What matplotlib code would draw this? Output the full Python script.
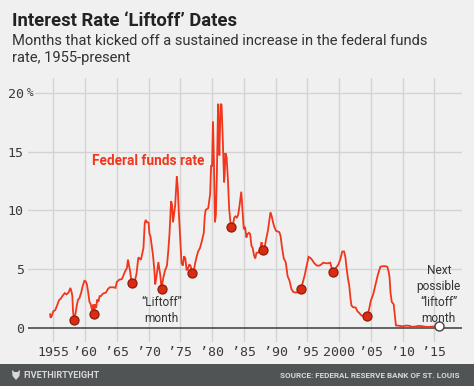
import matplotlib
matplotlib.use("Agg")
import matplotlib.pyplot as plt
from matplotlib.patches import Rectangle, Polygon

# ---------------- data ----------------
years = [1954.50, 1954.58, 1954.75, 1955.0, 1955.3, 1955.6, 1955.9, 1956.2, 1956.5, 1956.8,
         1957.1, 1957.4, 1957.7, 1957.9, 1958.0, 1958.1, 1958.25, 1958.5, 1958.7, 1958.9,
         1959.1, 1959.4, 1959.6, 1959.9, 1960.1, 1960.3, 1960.5, 1960.7, 1960.9, 1961.1,
         1961.3, 1961.45, 1961.6, 1961.75, 1961.9, 1962.1, 1962.3, 1962.5, 1962.8, 1963.0,
         1963.3, 1963.6, 1963.9, 1964.2, 1964.5, 1964.8, 1965.0, 1965.4, 1965.8, 1966.0,
         1966.3, 1966.6, 1966.75, 1966.9, 1967.1, 1967.3, 1967.4, 1967.6, 1967.9, 1968.1,
         1968.4, 1968.6, 1968.8, 1969.0, 1969.2, 1969.4, 1969.55, 1969.7, 1969.9, 1970.0,
         1970.15, 1970.3, 1970.5, 1970.7, 1970.9, 1971.05, 1971.2, 1971.4, 1971.55, 1971.7,
         1971.85, 1972.05, 1972.3, 1972.6, 1972.9, 1973.1, 1973.3, 1973.55, 1973.7, 1973.85,
         1974.0, 1974.2, 1974.45, 1974.6, 1974.75, 1974.9, 1975.05, 1975.2, 1975.4, 1975.6,
         1975.8, 1976.0, 1976.2, 1976.4, 1976.6, 1976.8, 1976.9, 1977.1, 1977.3, 1977.5,
         1977.8, 1978.1, 1978.4, 1978.7, 1978.85, 1979.0, 1979.4, 1979.7, 1979.85, 1980.0,
         1980.15, 1980.3, 1980.45, 1980.6, 1980.75, 1980.95, 1981.05, 1981.15, 1981.35, 1981.5,
         1981.7, 1981.9, 1982.0, 1982.1, 1982.3, 1982.5, 1982.7, 1982.9, 1983.05, 1983.3,
         1983.5, 1983.7, 1983.9, 1984.1, 1984.3, 1984.6, 1984.8, 1985.0, 1985.2, 1985.4,
         1985.6, 1985.8, 1986.0, 1986.2, 1986.4, 1986.6, 1986.8, 1987.0, 1987.3, 1987.6,
         1987.8, 1987.9, 1988.0, 1988.3, 1988.5, 1988.8, 1989.0, 1989.2, 1989.4, 1989.6,
         1989.8, 1990.1, 1990.4, 1990.6, 1990.8, 1991.0, 1991.3, 1991.6, 1991.9, 1992.2,
         1992.5, 1992.8, 1993.2, 1993.6, 1993.9, 1994.0, 1994.3, 1994.6, 1994.9, 1995.2,
         1995.5, 1995.8, 1996.1, 1996.5, 1996.9, 1997.2, 1997.5, 1997.9, 1998.3, 1998.6,
         1998.9, 1999.1, 1999.5, 1999.9, 2000.2, 2000.5, 2000.8, 2001.0, 2001.2, 2001.4,
         2001.6, 2001.8, 2001.95, 2002.2, 2002.6, 2002.9, 2003.2, 2003.5, 2003.9, 2004.2,
         2004.4, 2004.7, 2005.0, 2005.4, 2005.8, 2006.1, 2006.5, 2006.9, 2007.3, 2007.6,
         2007.8, 2007.95, 2008.1, 2008.3, 2008.6, 2008.8, 2008.95, 2009.3, 2009.7, 2010.0,
         2010.5, 2011.0, 2011.5, 2012.0, 2012.5, 2013.0, 2013.5, 2014.0, 2014.5, 2015.0,
         2015.5, 2015.7]
rates = [1.15, 0.85, 1.0, 1.4, 1.5, 1.9, 2.35, 2.5, 2.75, 2.95,
         2.85, 3.0, 3.4, 3.0, 2.7, 1.5, 0.68, 1.2, 1.9, 2.4,
         2.5, 3.0, 3.5, 4.0, 3.95, 3.7, 3.0, 2.2, 2.0, 1.5,
         2.0, 1.2, 2.0, 1.7, 2.4, 2.2, 2.7, 2.7, 2.9, 2.95,
         3.0, 3.3, 3.45, 3.45, 3.45, 3.4, 3.9, 4.1, 4.15, 4.4,
         4.8, 5.1, 5.8, 5.4, 4.8, 4.0, 3.8, 3.9, 4.1, 4.6,
         6.0, 5.9, 5.8, 6.3, 6.8, 8.9, 9.2, 9.0, 9.0, 8.95,
         8.0, 7.8, 7.0, 6.2, 5.0, 3.7, 4.2, 5.0, 5.6, 5.0,
         4.5, 3.3, 4.2, 4.9, 5.3, 6.5, 8.0, 10.8, 10.5, 9.0,
         9.6, 10.5, 12.9, 12.0, 10.0, 8.5, 7.0, 5.5, 5.3, 6.1,
         5.9, 4.9, 5.0, 5.4, 5.3, 4.9, 4.65, 4.7, 5.4, 5.9,
         6.5, 6.8, 7.4, 8.1, 9.5, 10.05, 10.2, 11.4, 13.8, 13.8,
         17.6, 14.0, 9.0, 9.6, 12.8, 19.1, 16.5, 14.7, 19.1, 19.0,
         15.9, 12.4, 13.2, 14.9, 14.5, 12.6, 10.1, 9.0, 8.55, 8.8,
         9.4, 9.5, 9.4, 9.6, 10.3, 11.6, 10.0, 8.4, 8.6, 7.7,
         8.0, 8.1, 8.0, 7.0, 6.8, 6.2, 5.9, 6.4, 6.4, 6.7,
         7.3, 6.8, 6.6, 6.9, 7.5, 8.3, 9.1, 9.85, 9.5, 9.0,
         8.6, 8.25, 8.2, 8.15, 7.8, 6.9, 5.9, 5.6, 4.4, 4.0,
         3.3, 3.05, 3.0, 3.05, 3.0, 3.28, 3.9, 4.5, 5.3, 6.05,
         5.95, 5.75, 5.5, 5.3, 5.3, 5.4, 5.55, 5.5, 5.5, 5.55,
         5.0, 4.76, 5.1, 5.4, 5.85, 6.5, 6.5, 6.0, 5.0, 4.2,
         3.6, 2.5, 1.9, 1.75, 1.73, 1.4, 1.25, 1.05, 1.0, 1.0,
         1.0, 1.5, 2.3, 2.9, 3.8, 4.5, 5.2, 5.25, 5.25, 5.2,
         4.8, 4.3, 3.0, 2.2, 2.0, 1.0, 0.2, 0.18, 0.15, 0.12,
         0.18, 0.17, 0.08, 0.1, 0.16, 0.14, 0.09, 0.07, 0.09, 0.11,
         0.13, 0.14]

liftoff_years = [1958.25, 1961.45, 1967.4, 1972.05, 1976.9, 1983.05, 1988.0, 1994.0, 1999.1, 2004.4]
liftoff_rates = [0.68, 1.2, 3.8, 3.3, 4.65, 8.55, 6.6, 3.28, 4.76, 1.0]
next_year = [2015.7]
next_rate = [0.14]

xtick_years = [1955, 1960, 1965, 1970, 1975, 1980, 1985, 1990, 1995, 2000, 2005, 2010, 2015]
xtick_labels = ["1955", "’60", "’65", "’70", "’75", "’80", "’85", "’90", "’95", "2000", "’05", "’10", "’15"]
ytick_vals = [0, 5, 10, 15, 20]
ytick_labels = ["0", "5", "10", "15", "20"]

# ---------------- styling ----------------
W, H = 474, 386
BG = "#f0f0f0"
RED = "#f0361c"
fig = plt.figure(figsize=(W / 100, H / 100), dpi=100, facecolor=BG)

def fx(px):
    return px / W

def fy(py):
    return 1 - py / H

ax_l, ax_r, ax_t, ax_b = 28, 461.7, 78, 341.7
ax = fig.add_axes([fx(ax_l), fy(ax_b), fx(ax_r - ax_l), (ax_b - ax_t) / H])
ax.set_facecolor(BG)
for s in ax.spines.values():
    s.set_visible(False)

ax.set_xlim(1951.02, 2019.31)
ax.set_ylim(-1.19, 21.3)

# grid
for yv in ytick_vals[1:]:
    ax.axhline(yv, color="#d3d3d3", lw=1.0, zorder=1)
for xv in xtick_years:
    ax.axvline(xv, color="#d3d3d3", lw=1.0, zorder=1)
ax.axhline(0, color="#4a4a4a", lw=1.2, zorder=2)

ax.plot(years, rates, color=RED, lw=1.3, zorder=3, solid_joinstyle="miter")
ax.plot(liftoff_years, liftoff_rates, "o", ms=6.5, mfc="#dd2a12", mec="#8c1c0c", mew=0.9, zorder=4)
ax.plot(next_year, next_rate, "o", ms=6.5, mfc="#ffffff", mec="#444444", mew=1.0, zorder=4)

ax.set_xticks(xtick_years)
ax.set_xticklabels(xtick_labels, family="DejaVu Sans Mono", fontsize=9.5, color="#3a3a3a")
ax.set_yticks(ytick_vals)
ax.set_yticklabels(ytick_labels, family="DejaVu Sans Mono", fontsize=9.5, color="#3a3a3a")
ax.tick_params(axis="x", length=0, pad=3)
ax.tick_params(axis="y", length=0, pad=3)

# percent sign after "20"
ax.text(1950.85, 20, "%", transform=ax.transData, family="DejaVu Sans Mono", fontsize=8,
        color="#3a3a3a", ha="left", va="center",
        bbox=dict(facecolor=BG, edgecolor="none", pad=1.0), zorder=5)

# annotations
ax.text(1961.1, 14.2, "Federal funds rate", color=RED, fontsize=9.8, fontweight="bold",
        family="Roboto", ha="left", va="center", zorder=5)
ax.text(1972.05, 2.75, "“Liftoff”\nmonth", color="#333333", fontsize=8.6, family="Roboto",
        ha="center", va="top", linespacing=1.3, zorder=5)
ax.text(2015.7, 5.45, "Next\npossible\n“liftoff”\nmonth", color="#333333", fontsize=8.6,
        family="Roboto", ha="center", va="top", linespacing=1.3, zorder=5)

# titles
fig.text(fx(12.5), fy(26), "Interest Rate ‘Liftoff’ Dates", fontsize=13.3, fontweight="bold",
         family="Roboto", color="#222222", va="baseline", ha="left")
fig.text(fx(12), fy(45), "Months that kicked off a sustained increase in the federal funds",
         fontsize=10.6, family="Roboto", color="#333333", va="baseline", ha="left")
fig.text(fx(12), fy(61.7), "rate, 1955-present",
         fontsize=10.6, family="Roboto", color="#333333", va="baseline", ha="left")

# footer
fig.patches.append(Rectangle((0, 0), 1, (H - 364.3) / H, transform=fig.transFigure,
                             facecolor="#505455", edgecolor="none", zorder=0))
icon = [(12, 370), (14.5, 372), (17.5, 372), (20, 370), (19.5, 376), (16, 380), (12.5, 376)]
fig.patches.append(Polygon([(fx(x), fy(y)) for x, y in icon], closed=True, transform=fig.transFigure,
                           facecolor="#d8d8d8", edgecolor="none", zorder=1))
fig.text(fx(23.5), fy(375), "FIVETHIRTYEIGHT", fontsize=6.6, fontweight="bold", family="Roboto",
         color="#d8d8d8", va="center", ha="left")
fig.text(fx(459.5), fy(375), "SOURCE: FEDERAL RESERVE BANK OF ST. LOUIS", fontsize=5.9,
         fontweight="bold", family="Roboto", color="#d8d8d8", va="center", ha="right")

fig.savefig("out.png", dpi=100, facecolor=BG)
